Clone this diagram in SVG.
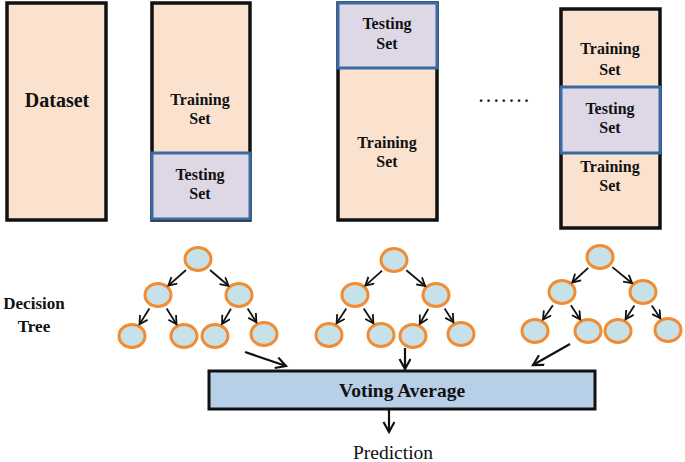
<svg xmlns="http://www.w3.org/2000/svg" width="685" height="462" viewBox="0 0 685 462">
<defs>
<style>
.train{fill:#fae2cf;stroke:#111;stroke-width:3.5}
.test{fill:#ddd7e6;stroke:#3a6aa3;stroke-width:3}
.lbl{font-weight:bold;font-size:16px;fill:#111;text-anchor:middle}
.lbl.s20{font-size:20px}
.lbl.s17{font-size:17px}
.lbl.s19{font-size:19.5px}
.node{fill:#c6e1e7;stroke:#f28c33;stroke-width:3}
.edge{stroke:#111;stroke-width:1.8;fill:none}
.conn{stroke:#111;stroke-width:2.2;fill:none}
</style>
<marker id="ah" markerUnits="userSpaceOnUse" markerWidth="12" markerHeight="12" refX="9" refY="5" orient="auto">
<path d="M1,0.5 L9,5 L1,9.5" fill="none" stroke="#111" stroke-width="1.8"/>
</marker>
<marker id="ah2" markerUnits="userSpaceOnUse" markerWidth="14" markerHeight="14" refX="11" refY="6" orient="auto">
<path d="M1,0.5 L11,6 L1,11.5" fill="none" stroke="#111" stroke-width="2.2"/>
</marker>
</defs>
<rect width="685" height="462" fill="#fff"/>
<g font-family="Liberation Serif, Times New Roman, serif">

<g id="dataset">
<rect class="train" x="7" y="3" width="99" height="217"/>
<text class="lbl s20" x="57" y="107">Dataset</text>
</g>

<g id="split1">
<rect class="train" x="152" y="3" width="98" height="217"/>
<rect class="test" x="152" y="153" width="98" height="66"/>
<text class="lbl" x="200" y="105">Training</text>
<text class="lbl" x="200" y="124">Set</text>
<text class="lbl" x="200" y="180">Testing</text>
<text class="lbl" x="200" y="199">Set</text>
</g>

<g id="split2">
<rect class="train" x="338" y="3" width="99" height="217"/>
<rect class="test" x="338" y="3" width="99" height="65"/>
<text class="lbl" x="387" y="29">Testing</text>
<text class="lbl" x="387" y="49">Set</text>
<text class="lbl" x="387" y="148">Training</text>
<text class="lbl" x="387" y="167">Set</text>
</g>

<g id="ellipsis">
<text x="479" y="102" font-weight="bold" font-size="16" letter-spacing="3.6" fill="#111">.......</text>
</g>

<g id="split3">
<rect class="train" x="561" y="9" width="99" height="219"/>
<rect class="test" x="561" y="87" width="99" height="66"/>
<text class="lbl" x="610" y="54">Training</text>
<text class="lbl" x="610" y="75">Set</text>
<text class="lbl" x="610" y="114">Testing</text>
<text class="lbl" x="610" y="133">Set</text>
<text class="lbl" x="610" y="172">Training</text>
<text class="lbl" x="610" y="191">Set</text>
</g>

<g id="decision-tree-label">
<text class="lbl s17" x="34" y="309">Decision</text>
<text class="lbl s17" x="34" y="332">Tree</text>
</g>

<g id="tree1">
<ellipse class="node" cx="198" cy="259" rx="13" ry="11.5"/>
<ellipse class="node" cx="158" cy="295" rx="13" ry="11.5"/>
<ellipse class="node" cx="239" cy="295" rx="13" ry="11.5"/>
<ellipse class="node" cx="132" cy="336" rx="13" ry="11.5"/>
<ellipse class="node" cx="184" cy="336" rx="13" ry="11.5"/>
<ellipse class="node" cx="215" cy="336" rx="13" ry="11.5"/>
<ellipse class="node" cx="264" cy="334" rx="13" ry="11.5"/>
</g>

<g id="tree2">
<ellipse class="node" cx="394" cy="260" rx="13" ry="11.5"/>
<ellipse class="node" cx="355" cy="295" rx="13" ry="11.5"/>
<ellipse class="node" cx="436" cy="295" rx="13" ry="11.5"/>
<ellipse class="node" cx="329" cy="335" rx="13" ry="11.5"/>
<ellipse class="node" cx="381" cy="335" rx="13" ry="11.5"/>
<ellipse class="node" cx="413" cy="336" rx="13" ry="11.5"/>
<ellipse class="node" cx="461" cy="334" rx="13" ry="11.5"/>
</g>

<g id="tree3">
<ellipse class="node" cx="600" cy="257" rx="13" ry="11.5"/>
<ellipse class="node" cx="562" cy="292" rx="13" ry="11.5"/>
<ellipse class="node" cx="643" cy="292" rx="13" ry="11.5"/>
<ellipse class="node" cx="535" cy="331" rx="13" ry="11.5"/>
<ellipse class="node" cx="588" cy="331" rx="13" ry="11.5"/>
<ellipse class="node" cx="618" cy="331" rx="13" ry="11.5"/>
<ellipse class="node" cx="668" cy="330" rx="13" ry="11.5"/>
</g>

<g id="voting">
<rect x="209" y="371" width="386" height="38" fill="#b8cfe8" stroke="#111" stroke-width="3"/>
<text class="lbl s19" x="402" y="397">Voting Average</text>
</g>

<g id="prediction">
<text x="393" y="459" font-size="19.5" fill="#111" text-anchor="middle">Prediction</text>
</g>

</g>
<g id="connectors">
<line class="edge" x1="186" y1="270" x2="168.4" y2="285.6" marker-end="url(#ah)"/>
<line class="edge" x1="210" y1="270" x2="228.5" y2="285.8" marker-end="url(#ah)"/>
<line class="edge" x1="149.4" y1="308.5" x2="139.5" y2="324.2" marker-end="url(#ah)"/>
<line class="edge" x1="166.6" y1="308.5" x2="176.5" y2="324.2" marker-end="url(#ah)"/>
<line class="edge" x1="230.9" y1="308.8" x2="222.1" y2="323.9" marker-end="url(#ah)"/>
<line class="edge" x1="247.6" y1="308.5" x2="256.4" y2="322.2" marker-end="url(#ah)"/>

<line class="edge" x1="382.1" y1="270.7" x2="365.4" y2="285.6" marker-end="url(#ah)"/>
<line class="edge" x1="406.3" y1="270.2" x2="425.2" y2="286" marker-end="url(#ah)"/>
<line class="edge" x1="346.3" y1="308.4" x2="336.6" y2="323.3" marker-end="url(#ah)"/>
<line class="edge" x1="363.7" y1="308.4" x2="373.4" y2="323.3" marker-end="url(#ah)"/>
<line class="edge" x1="428.2" y1="309" x2="419.8" y2="323.8" marker-end="url(#ah)"/>
<line class="edge" x1="444.6" y1="308.5" x2="453.4" y2="322.2" marker-end="url(#ah)"/>

<line class="edge" x1="588.2" y1="267.8" x2="572.3" y2="282.5" marker-end="url(#ah)"/>
<line class="edge" x1="612.4" y1="267.1" x2="632.1" y2="283.2" marker-end="url(#ah)"/>
<line class="edge" x1="552.9" y1="305.2" x2="543" y2="319.5" marker-end="url(#ah)"/>
<line class="edge" x1="570.9" y1="305.3" x2="580.2" y2="319.4" marker-end="url(#ah)"/>
<line class="edge" x1="634.4" y1="305.5" x2="625.6" y2="319.2" marker-end="url(#ah)"/>
<line class="edge" x1="651.8" y1="305.4" x2="660.3" y2="318.3" marker-end="url(#ah)"/>

<line class="conn" x1="245" y1="352" x2="286" y2="366" marker-end="url(#ah2)"/>
<line class="conn" x1="405" y1="348" x2="405" y2="369" marker-end="url(#ah2)"/>
<line class="conn" x1="570" y1="344" x2="533" y2="365" marker-end="url(#ah2)"/>
<line class="conn" x1="389" y1="410" x2="389" y2="432" marker-end="url(#ah2)"/>
</g>
</svg>
